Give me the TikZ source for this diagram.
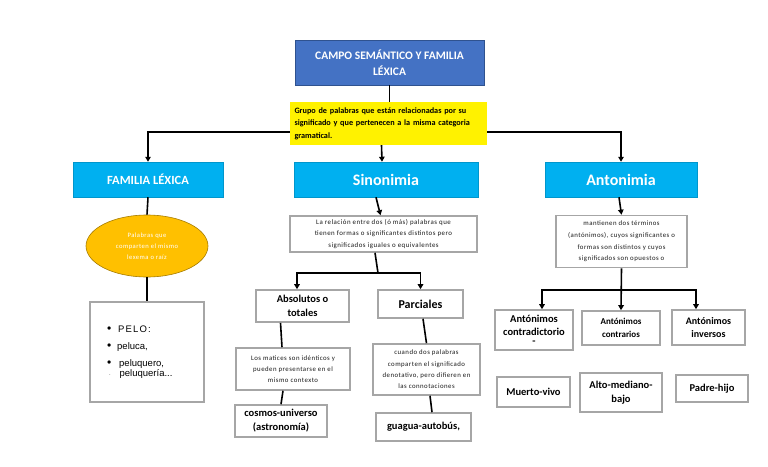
\documentclass[tikz,border=0pt]{standalone}
\usepackage{fontspec}
\setmainfont{Carlito}
\newfontfamily\spacedfont[LetterSpace=7]{Carlito}
\newfontfamily\listfont{Liberation Sans}
\usetikzlibrary{arrows.meta,shapes.geometric}

\definecolor{titleblue}{HTML}{4472C4}
\definecolor{titleedge}{HTML}{2F528F}
\definecolor{skyblue}{HTML}{00B0F0}
\definecolor{amber}{HTML}{FFC000}
\definecolor{amberedge}{HTML}{A67C00}
\definecolor{framegray}{HTML}{A6A6A6}

\tikzset{
  sz/.style 2 args={minimum width=#1pt,minimum height=#2pt},
  box/.style={draw=framegray,line width=1.6pt,fill=white,inner sep=0pt,align=center},
  catbox/.style={fill=skyblue,draw=skyblue!85!black,line width=.5pt,text=white,inner sep=0pt},
  small/.style={font=\spacedfont\fontsize{6.9}{11.3}\selectfont,text=black!90},
  bold/.style={font=\bfseries\fontsize{10.5}{14}\selectfont},
  link/.style={line width=1.6pt},
  arr/.style={link,-{Triangle[length=5pt,width=5.5pt]}},
}

\begin{document}
\begin{tikzpicture}[x=1pt,y=-1pt]
\useasboundingbox (0,0) rectangle (768,466);

% top
\node[fill=titleblue,draw=titleedge,line width=.8pt,text=white,sz={189}{45},align=center,
  font=\bfseries\fontsize{11.5}{16}\selectfont] (title) at (389.5,62.5) {CAMPO SEMÁNTICO Y FAMILIA\\LÉXICA};
\draw[link] (title.south) -- ++(0,17);
\node[fill=yellow,sz={197}{43},text width=188pt,align=left,
  font=\bfseries\fontsize{8.2}{12.5}\selectfont] (def) at (388.5,123.5)
  {Grupo de palabras que están relacionadas por su\\significado y que pertenecen a la misma categoria\\gramatical.};

% three branches
\node[catbox,sz={150}{35},font=\bfseries\fontsize{12.5}{15}\selectfont] (fam) at (148,179.5) {FAMILIA LÉXICA};
\node[catbox,sz={184}{35},font=\bfseries\fontsize{16}{18}\selectfont] (sin) at (386,179.5) {Sinonimia};
\node[catbox,sz={152}{35},font=\bfseries\fontsize{16}{18}\selectfont] (ant) at (621,179.5) {Antonimia};
\draw[arr] ([yshift=-8.5pt]def.west) -| (fam.north);
\draw[arr] ([yshift=-8.5pt]def.east) -| (ant.north);
\draw[arr] ([xshift=-7pt]def.south) -- ([xshift=-4pt]sin.north);

% familia lexica
\node[ellipse,fill=amber,draw=amberedge,line width=.6pt,sz={122}{62},inner sep=0pt,text=white,align=center,
  font=\spacedfont\fontsize{6.6}{11}\selectfont] (lex) at (147,246) {Palabras que\\comparten el mismo\\lexema o raíz};
\draw[link] (fam.south) -- (lex.north);
\node[box,sz={114}{100},text width=92pt,align=left,font=\listfont\fontsize{9.5}{11}\selectfont] (pelo) at (147,352)
  {\hspace*{6pt}{\large\textbullet}\hspace{7pt}{\addfontfeature{LetterSpace=12}PELO:}\\[6pt]
   \hspace*{6pt}{\large\textbullet}\hspace{6pt}peluca,\\[6pt]
   \hspace*{6pt}{\large\textbullet}\hspace{8pt}peluquero,\\[-1pt]
   \hspace*{8pt}{\tiny·}\hspace{9pt}peluquería...};
\draw[link] (lex.south) -- (pelo.north);

% sinonimia
\node[box,sz={187}{36},small] (sdef) at (383.5,234)
  {La relación entre dos (ó más) palabras que\\tienen formas o significantes distintos pero\\significados iguales o equivalentes};
\draw[arr] ([xshift=-10pt]sin.south) -- ([xshift=-3pt]sdef.north);
\coordinate (sfork) at (378,273);
\draw[link] ([xshift=-8.5pt]sdef.south) -- (sfork);
\node[box,sz={93}{32},bold] (abs) at (302.5,306) {Absolutos o\\totales};
\node[box,sz={85}{28},bold,font=\bfseries\fontsize{12}{14}\selectfont] (parc) at (420.5,304) {Parciales};
\draw[arr] (sfork) -| ([xshift=-5.5pt]abs.north);
\draw[arr] (sfork) -| (parc.north);
\node[box,sz={114}{42},small,font=\spacedfont\fontsize{6.8}{11}\selectfont] (mat) at (293,369)
  {Los matices son idénticos y\\pueden presentarse en el\\mismo contexto};
\node[box,sz={92}{32},bold] (cos) at (281,421) {cosmos-universo\\(astronomía)};
\draw[link] ([xshift=-22pt]abs.south) -- ([xshift=-11pt]mat.north);
\draw[link] ([xshift=-10pt]mat.south) -- (cos.north);
\node[box,sz={107}{51},small,font=\spacedfont\fontsize{6.8}{11.4}\selectfont] (cuan) at (426.5,369.5)
  {cuando dos palabras\\comparten el significado\\denotativo, pero difieren en\\las connotaciones};
\node[box,sz={95}{28},bold] (guag) at (423.5,427) {guagua-autobús,};
\draw[link] ([xshift=2.5pt]parc.south) -- (cuan.north);
\draw[link] ([xshift=3.5pt]cuan.south) -- ([xshift=8.5pt]guag.north);

% antonimia
\node[box,sz={131}{52},small,font=\spacedfont\fontsize{6.8}{11.6}\selectfont] (adef) at (621.5,241.5)
  {mantienen dos términos\\(antónimos), cuyos significantes o\\formas son distintos y cuyos\\significados son opuestos o};
\draw[arr] ([xshift=-2pt]ant.south) -- (adef.north);
\node[box,sz={78}{40},bold,font=\bfseries\fontsize{10.5}{13}\selectfont] (contra) at (534,330)
  {Antónimos\\contradictorio\\[-4pt]-};
\node[box,sz={78}{34},bold,font=\bfseries\fontsize{9}{13}\selectfont] (contr) at (621,328) {Antónimos\\contrarios};
\node[box,sz={73}{35},bold,font=\bfseries\fontsize{10}{13}\selectfont] (inv) at (708.5,327.5) {Antónimos\\inversos};
\coordinate (afork) at (621,290);
\draw[arr] (adef.south) -- (contr.north);
\draw[arr] (afork) -| ([xshift=8pt]contra.north);
\draw[arr] (afork) -| ([xshift=-12.5pt]inv.north);
\node[box,sz={73}{30},bold] (muer) at (533.5,392) {Muerto-vivo};
\node[box,sz={82}{39},bold] (alto) at (621,392.5) {Alto-mediano-\\bajo};
\node[box,sz={72}{27},bold] (padr) at (712,388.5) {Padre-hijo};
\end{tikzpicture}
\end{document}
